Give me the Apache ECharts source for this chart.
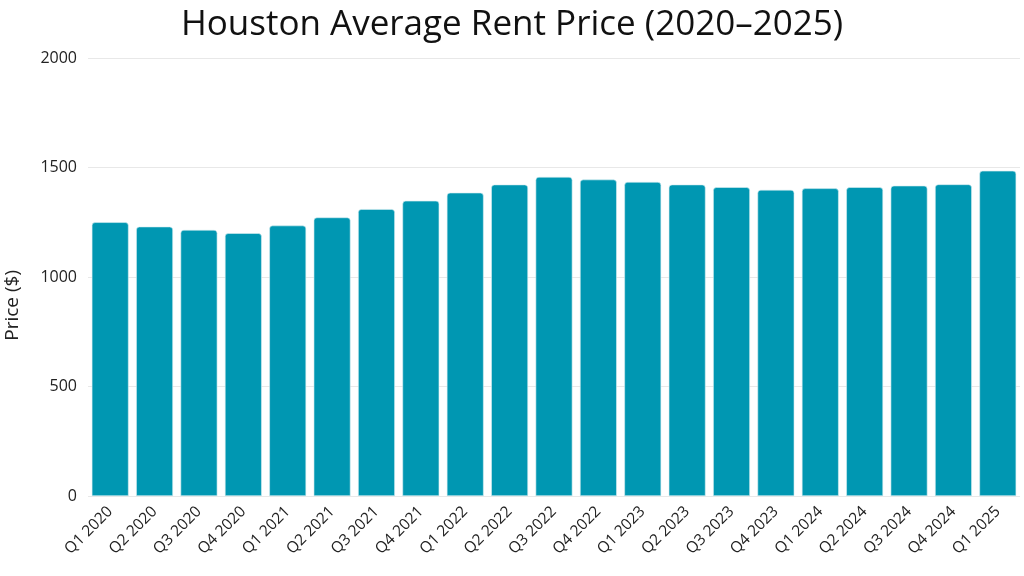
<!DOCTYPE html>
<html>
<head>
<meta charset="utf-8">
<script src="https://cdn.jsdelivr.net/npm/echarts@6/dist/echarts.min.js"></script>
<style>
html,body{margin:0;padding:0;background:#fff;}
#chart{width:1024px;height:576px;}
</style>
</head>
<body>
<div id="chart"></div>
<script>
const categories = ["Q1 2020","Q2 2020","Q3 2020","Q4 2020","Q1 2021","Q2 2021","Q3 2021","Q4 2021","Q1 2022","Q2 2022","Q3 2022","Q4 2022","Q1 2023","Q2 2023","Q3 2023","Q4 2023","Q1 2024","Q2 2024","Q3 2024","Q4 2024","Q1 2025"];
const prices = [1250,1230,1215,1200,1235,1272,1310,1348,1385,1422,1457,1445,1434,1422,1410,1398,1405,1410,1417,1423,1485];
const yTicks = [0,500,1000,1500,2000];

const FONT = "'Open Sans', sans-serif";
const chart = echarts.init(document.getElementById('chart'));
chart.setOption({
  backgroundColor: '#ffffff',
  animation: false,
  title: {
    text: 'Houston Average Rent Price (2020\u20132025)',
    left: 'center',
    top: 3,
    textStyle: {fontFamily: FONT, fontSize: 35, fontWeight: 'normal', color: '#111'}
  },
  grid: {left: 88, right: 4, top: 58, bottom: 80},
  xAxis: {
    type: 'category',
    data: categories,
    axisLine: {show: false},
    axisTick: {show: false},
    axisLabel: {rotate: 45, interval: 0, fontFamily: FONT, fontSize: 15.5, color: '#222', margin: 13}
  },
  yAxis: {
    type: 'value',
    min: yTicks[0],
    max: yTicks[yTicks.length-1],
    interval: 500,
    axisLine: {show: false},
    axisTick: {show: false},
    splitLine: {lineStyle: {color: '#e8e8e8', width: 1}},
    axisLabel: {fontFamily: FONT, fontSize: 16, color: '#222', margin: 11, formatter: v => String(v)}
  },
  graphic: [{
    type: 'text',
    left: 3,
    top: 270,
    rotation: Math.PI/2,
    style: {text: 'Price ($)', fontFamily: FONT, fontSize: 19, fill: '#222'}
  }],
  series: [{
    type: 'bar',
    data: prices,
    barWidth: '83%',
    itemStyle: {color: '#0097B2', borderRadius: [3,3,0,0], borderColor: '#d9eef2', borderWidth: 0.6}
  }]
});
</script>
</body>
</html>
